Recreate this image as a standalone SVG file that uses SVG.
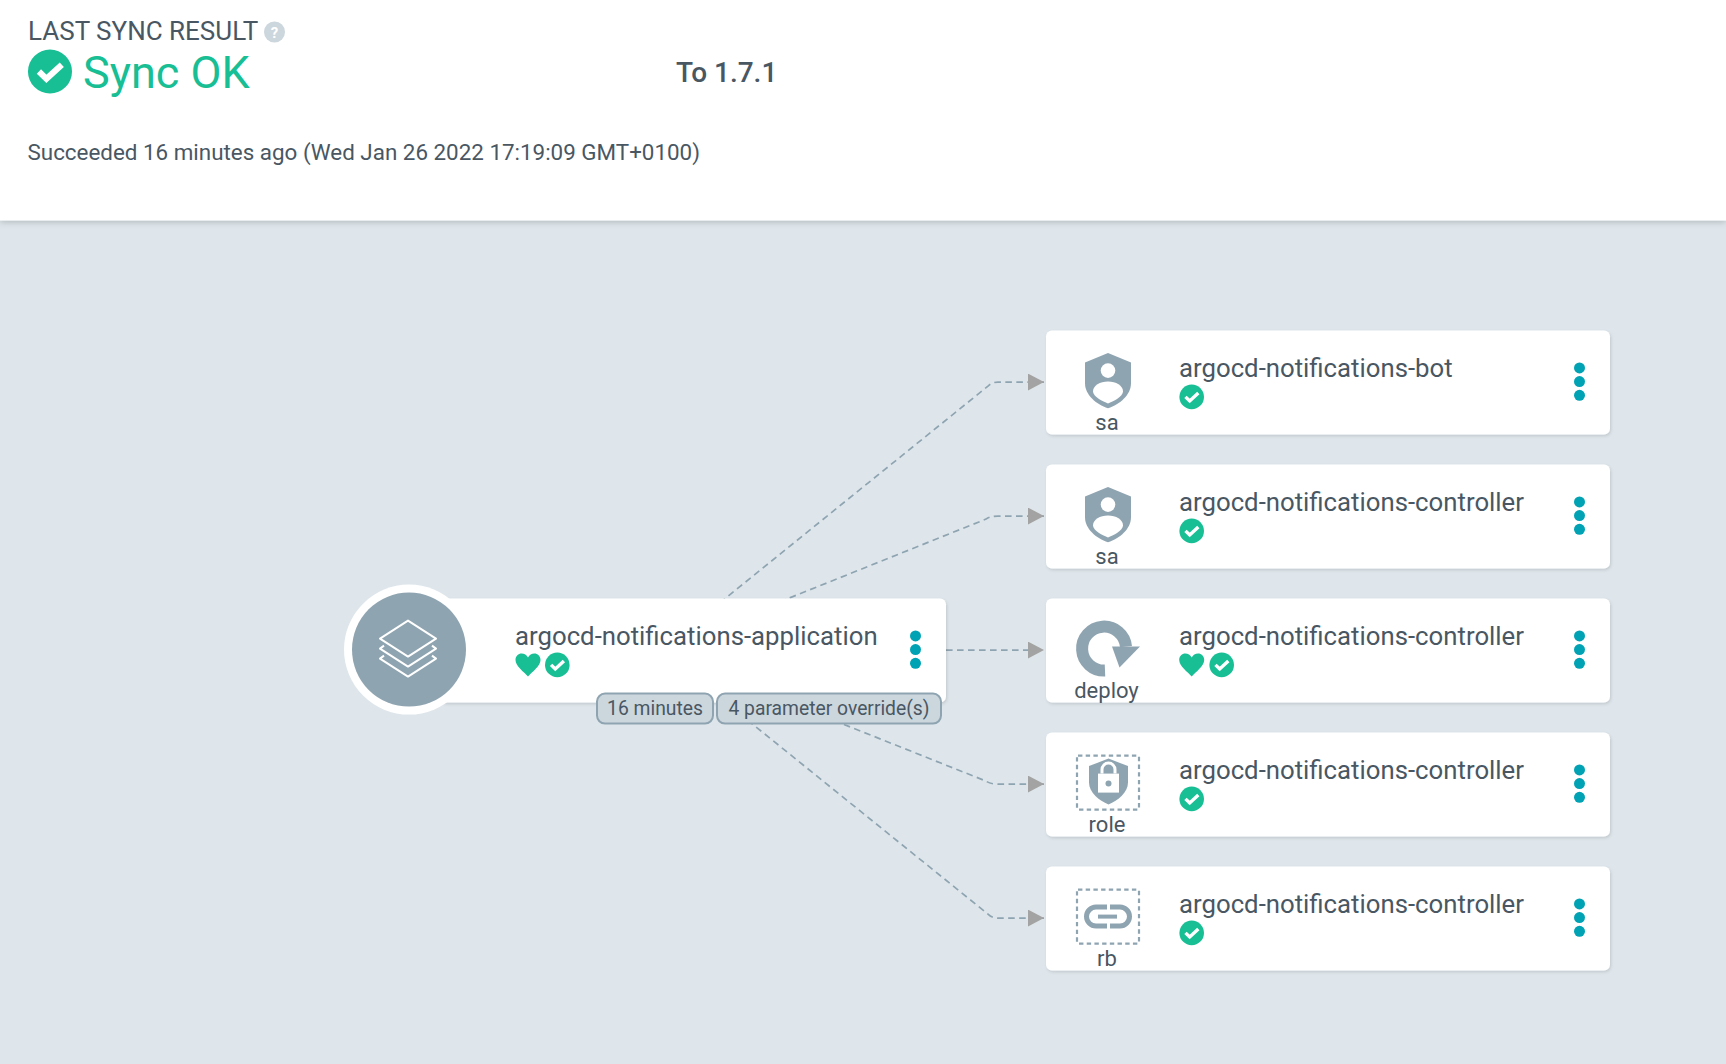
<svg xmlns="http://www.w3.org/2000/svg" width="1726" height="1064" viewBox="0 0 1726 1064">
<defs>
<style>
text{font-family:Roboto,"Liberation Sans",sans-serif;fill:#495763}
.name{font-size:25.75px}
.kind{font-size:22px;text-anchor:middle}
.pill{font-size:19.3px;text-anchor:middle}
.pillbox{fill:#ccd6dd;stroke:#8fa4b1;stroke-width:2}
.card{fill:#fff;filter:url(#sh)}
.ico{fill:#8fa4b1}
.dots{fill:#00a2b3}
.good{fill:#18be94}
.dash{fill:none;stroke:#8fa4b1;stroke-width:2.2;stroke-dasharray:4.4 3.3}
.edge{fill:none;stroke:#8fa4b1;stroke-width:1.7;stroke-dasharray:6.6 4.4}
</style>
<filter id="sh" x="-5%" y="-10%" width="110%" height="125%"><feDropShadow dx="1" dy="1.5" stdDeviation="1.5" flood-color="#000" flood-opacity=".13"/></filter>
<filter id="hs" x="-1%" y="-5%" width="102%" height="115%"><feDropShadow dx="0" dy="1.5" stdDeviation="3" flood-color="#000" flood-opacity=".2"/></filter>
<marker id="arr" markerUnits="userSpaceOnUse" markerWidth="16" markerHeight="17" refX="16" refY="8.5" orient="auto"><path d="M0 0L16 8.5L0 17Z" fill="#a3a3a3"/></marker>
<g id="ok"><circle r="12.3" class="good"/><path d="M-6.2 0L-2 4.100L6.600 -3.800" fill="none" stroke="#fff" stroke-width="3.4"/></g>
<path id="heart" class="good" d="M0 11.5C-4 7-12.5 1-12.5-5C-12.5-9-9.5-11.5-6.5-11.5C-3.5-11.5-1.5-10 0-7.5C1.5-10 3.5-11.5 6.5-11.5C9.5-11.5 12.5-9 12.5-5C12.5 1 4 7 0 11.5Z"/>
<g id="menu" class="dots"><circle cy="-13.7" r="5.5"/><circle r="5.5"/><circle cy="13.7" r="5.5"/></g>
<g id="sa"><path class="ico" d="M1108 352.300L1131 362V383C1131 394 1120 404 1108 407.700C1096 404 1085 394 1085 383V362Z"/><circle cx="1108" cy="370" r="7.300" fill="#fff"/><path fill="#fff" d="M1108 381C1116 381 1123 385 1123 391C1123 396 1113 401 1108 403C1103 401 1093 396 1093 391C1093 385 1100 381 1108 381Z"/></g>
</defs>
<rect width="1726" height="1064" fill="#dee6eb"/>
<g id="header">
<rect width="1726" height="220.500" fill="#fff" filter="url(#hs)"/>
<text x="28" y="40" font-size="26">LAST SYNC RESULT</text>
<circle cx="274.500" cy="32" r="10.500" fill="#ccd6dd"/>
<text x="274.500" y="37.500" font-size="15" font-weight="700" text-anchor="middle" style="fill:#fff">?</text>
<g transform="translate(50 71.500) scale(1.79)"><use href="#ok"/></g>
<text x="83" y="88" font-size="45" style="fill:#18be94">Sync OK</text>
<text x="676" y="82" font-size="28" font-weight="500">To 1.7.1</text>
<text x="27.500" y="160" font-size="22.400">Succeeded 16 minutes ago (Wed Jan 26 2022 17:19:09 GMT+0100)</text>
</g>
<g transform="translate(0 0.600)">
<g id="connectors">
<path class="edge" marker-end="url(#arr)" d="M660 650.500L988 385.500Q992 381.500 998 381.500H1044"/>
<path class="edge" marker-end="url(#arr)" d="M657 650.500L986 518.500Q990 515.500 998 515.500H1044"/>
<path class="edge" marker-end="url(#arr)" d="M660 649.500H1044"/>
<path class="edge" marker-end="url(#arr)" d="M660 650.500L986 780.500Q990 783.500 998 783.500H1044"/>
<path class="edge" marker-end="url(#arr)" d="M662 650.500L988 913.500Q992 917.500 998 917.500H1044"/>
</g>
<g id="node-app">
<rect class="card" x="440" y="598" width="506" height="104" rx="6"/>
<circle cx="409" cy="649" r="65" fill="#fff"/>
<circle cx="409" cy="649" r="57" class="ico"/>
<g fill="none" stroke="#fff" stroke-width="2" stroke-linejoin="round"><path d="M408 620L436 638L408 656L380 638Z"/><path d="M384 645L380 648L408 666L436 648L432 645"/><path d="M384 655L380 658L408 676L436 658L432 655"/></g>
<text class="name" x="515" y="644.500">argocd-notifications-application</text>
<use href="#heart" x="528" y="664.300"/>
<use href="#ok" x="557.300" y="664.300"/>
<use href="#menu" x="915.500" y="649"/>
<rect class="pillbox" x="597" y="693" width="116" height="30" rx="8"/>
<text class="pill" x="655" y="714.500">16 minutes</text>
<rect class="pillbox" x="717" y="693" width="224" height="30" rx="8"/>
<text class="pill" x="829" y="714.500">4 parameter override(s)</text>
</g>
<g id="node-sa-bot">
<rect class="card" x="1046" y="330" width="564" height="104" rx="6"/>
<use href="#sa"/>
<text class="kind" x="1107" y="429.500">sa</text>
<text class="name" x="1179" y="376">argocd-notifications-bot</text>
<use href="#ok" x="1191.700" y="396.300"/>
<use href="#menu" x="1579.500" y="381"/>
</g>
<g id="node-sa-controller">
<rect class="card" x="1046" y="464" width="564" height="104" rx="6"/>
<use href="#sa" y="134"/>
<text class="kind" x="1107" y="563.500">sa</text>
<text class="name" x="1179" y="510">argocd-notifications-controller</text>
<use href="#ok" x="1191.700" y="530.300"/>
<use href="#menu" x="1579.500" y="515"/>
</g>
<g id="node-deploy">
<rect class="card" x="1046" y="598" width="564" height="104" rx="6"/>
<path d="M1105 670A22 22 0 1 1 1126 646" fill="none" stroke="#8fa4b1" stroke-width="12"/>
<path class="ico" d="M1112 646H1140L1119.500 667Z"/>
<text class="kind" x="1106.500" y="697.500">deploy</text>
<text class="name" x="1179" y="644">argocd-notifications-controller</text>
<use href="#heart" x="1191.700" y="664.300"/>
<use href="#ok" x="1221.700" y="664.300"/>
<use href="#menu" x="1579.500" y="649"/>
</g>
<g id="node-role">
<rect class="card" x="1046" y="732" width="564" height="104" rx="6"/>
<rect class="dash" x="1077" y="755" width="62" height="54" rx="1"/>
<path class="ico" d="M1108.500 758L1128 765.500V782C1128 792 1118 800 1108.500 804C1099 800 1089 792 1089 782V765.500Z"/>
<path d="M1102 773V769A6.500 6.500 0 0 1 1115 769V773" fill="none" stroke="#fff" stroke-width="3"/>
<rect x="1098" y="773" width="21" height="19" fill="#fff"/>
<circle class="ico" cx="1108.500" cy="783" r="3"/>
<text class="kind" x="1107" y="831.500">role</text>
<text class="name" x="1179" y="778">argocd-notifications-controller</text>
<use href="#ok" x="1191.700" y="798.300"/>
<use href="#menu" x="1579.500" y="783"/>
</g>
<g id="node-rb">
<rect class="card" x="1046" y="866" width="564" height="104" rx="6"/>
<rect class="dash" x="1077" y="889" width="62" height="54" rx="1"/>
<path d="M1107 906.500H1096A9.500 9.500 0 0 0 1096 925.500H1107M1110 906.500H1120A9.500 9.500 0 0 1 1120 925.500H1110" fill="none" stroke="#8fa4b1" stroke-width="5"/>
<rect class="ico" x="1098" y="914" width="19" height="4"/>
<text class="kind" x="1107" y="965.500">rb</text>
<text class="name" x="1179" y="912">argocd-notifications-controller</text>
<use href="#ok" x="1191.700" y="932.300"/>
<use href="#menu" x="1579.500" y="917"/>
</g>
</g>
</svg>
